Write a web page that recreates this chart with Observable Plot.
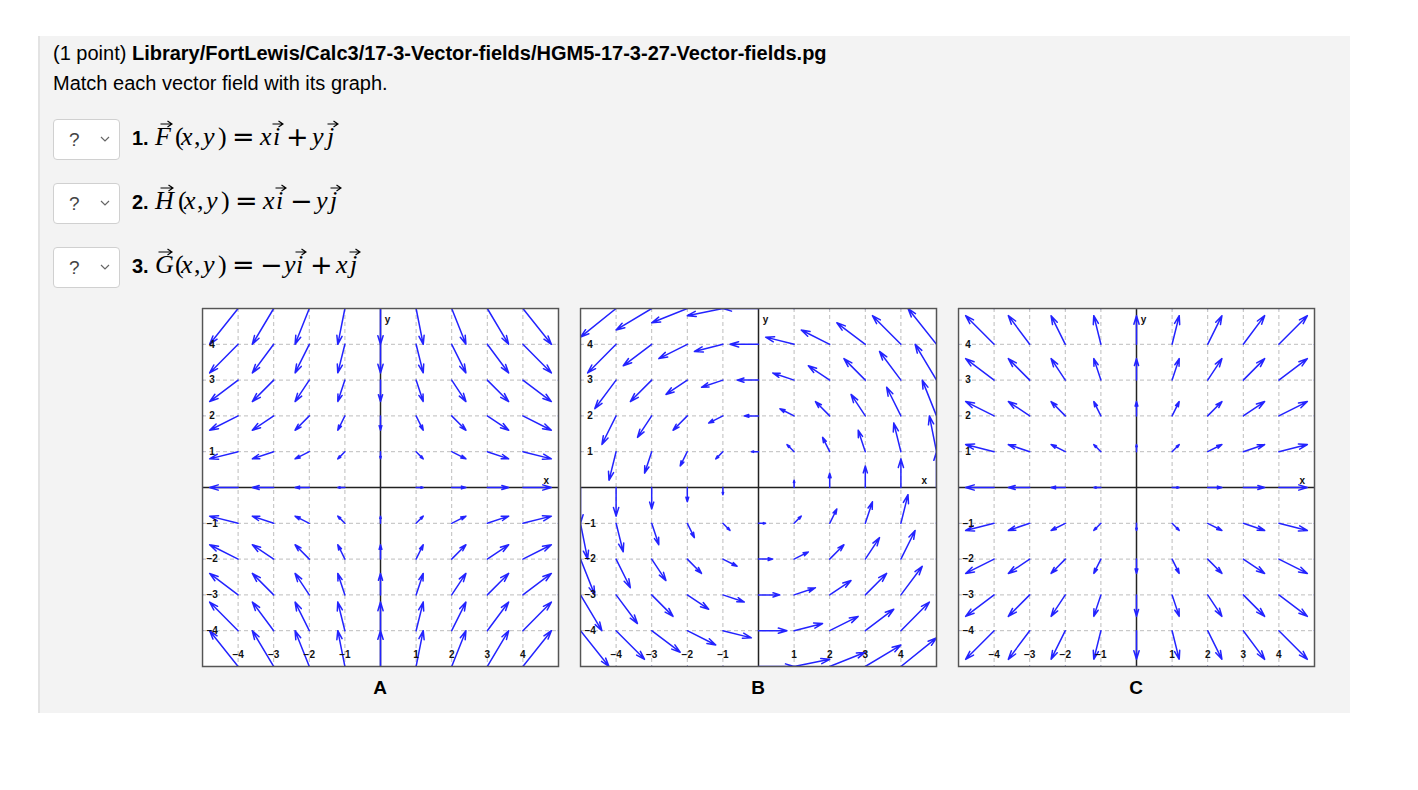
<!DOCTYPE html>
<html><head><meta charset="utf-8">
<script src="https://cdn.jsdelivr.net/npm/d3@7"></script>
<script src="https://cdn.jsdelivr.net/npm/@observablehq/plot@0.6"></script>
<style>
body{margin:0;background:#fff;font-family:"Liberation Sans",Arial,sans-serif;color:#000;}
#panel{position:absolute;left:38px;top:36px;width:1310px;height:677px;background:#f3f3f3;border-left:2px solid #e3e3e3;}
.line{position:absolute;left:53px;font-size:20px;line-height:23px;white-space:nowrap;}
.sel{position:absolute;left:53px;width:65px;height:39px;background:#fff;border:1px solid #d0d0d0;border-radius:4px;}
.sel .q{position:absolute;left:15px;top:9px;font-size:19px;line-height:21px;color:#444}
.sel svg{position:absolute;left:46px;top:16px}
.num{position:absolute;left:132px;font-size:20px;line-height:23px;font-weight:bold}
.g{position:absolute;font-family:"Liberation Serif","Times New Roman",serif;font-size:26px;line-height:26px;white-space:nowrap}
.g.it{font-style:italic}
.g.op{font-family:"DejaVu Sans",sans-serif;font-size:27px;line-height:27px}
.vec{position:absolute}
.graph{position:absolute;top:307px}
.letter{position:absolute;top:677px;width:40px;text-align:center;font-weight:bold;font-size:19px;line-height:22px}
</style>
</head><body>
<div id="panel"></div>
<div class="line" style="top:42px">(1 point) <b>Library/FortLewis/Calc3/17-3-Vector-fields/HGM5-17-3-27-Vector-fields.pg</b></div>
<div class="line" style="top:72px">Match each vector field with its graph.</div>

<div class="sel" style="top:119px"><span class="q">?</span><svg width="10" height="7"><polyline points="1,1 5,5 9,1" fill="none" stroke="#666" stroke-width="1.2"/></svg></div>
<div class="num" style="top:127px">1.</div>
<div class="sel" style="top:183px"><span class="q">?</span><svg width="10" height="7"><polyline points="1,1 5,5 9,1" fill="none" stroke="#666" stroke-width="1.2"/></svg></div>
<div class="num" style="top:191px">2.</div>
<div class="sel" style="top:247px"><span class="q">?</span><svg width="10" height="7"><polyline points="1,1 5,5 9,1" fill="none" stroke="#666" stroke-width="1.2"/></svg></div>
<div class="num" style="top:255px">3.</div>
<div id="math"></div>

<div id="graphs"></div>
<script>
// sample points (columns left to right, rows top to bottom)
const gridX = [-5,-4,-3,-2,-1,0,1,2,3,4,5];
const gridY = [5,4,3,2,1,0,-1,-2,-3,-4,-5];
// tick marks and labels
const tickValues = [-4,-3,-2,-1,1,2,3,4];
const tickLabels = ["−4","−3","−2","−1","1","2","3","4"];
const graphLetters = ["A","B","C"];

// Graph A: arrow offsets (dx per column, dy per row)
const aDxByColumn = [-1,-0.8,-0.6,-0.4,-0.2,0,0.2,0.4,0.6,0.8,1];
const aDyByRow    = [-1,-0.8,-0.6,-0.4,-0.2,0,0.2,0.4,0.6,0.8,1];
// Graph B: dx per row, dy per column
const bDxByRow    = [-1,-0.8,-0.6,-0.4,-0.2,0,0.2,0.4,0.6,0.8,1];
const bDyByColumn = [-1,-0.8,-0.6,-0.4,-0.2,0,0.2,0.4,0.6,0.8,1];
// Graph C: dx per column, dy per row
const cDxByColumn = [-1,-0.8,-0.6,-0.4,-0.2,0,0.2,0.4,0.6,0.8,1];
const cDyByRow    = [1,0.8,0.6,0.4,0.2,0,-0.2,-0.4,-0.6,-0.8,-1];

// ---- formulas (text layout) ----
const formulaRows = [
  {base: 146, glyphs: [["F",155,"it",[160,12]],["(",175],["x",181,"it"],[",",194],["y",203,"it"],[")",218],["=",232,"op"],["x",260,"it"],["i",273,"it",[272,11]],["+",286,"op"],["y",312,"it"],["j",327,"it",[327,11]]]},
  {base: 210, glyphs: [["H",155,"it",[160,13]],["(",178],["x",184,"it"],[",",197],["y",206,"it"],[")",221],["=",235,"op"],["x",263,"it"],["i",276,"it",[275,11]],["−",290,"op"],["y",316,"it"],["j",330,"it",[330,11]]]},
  {base: 274, glyphs: [["G",155,"it",[158,14]],["(",175],["x",181,"it"],[",",194],["y",203,"it"],[")",218],["=",232,"op"],["−",260,"op"],["y",284,"it"],["i",296,"it",[295,11]],["+",310,"op"],["x",336,"it"],["j",350,"it",[349,11]]]}
];
const mathDiv = document.getElementById("math");
formulaRows.forEach(row => {
  row.glyphs.forEach(([ch, left, cls, vec]) => {
    const s = document.createElement("span");
    s.className = "g" + (cls ? " " + cls : "");
    s.textContent = ch;
    s.style.left = left + "px";
    s.style.top = (row.base - (cls === "op" ? 23 : 22)) + "px";
    mathDiv.appendChild(s);
    if (vec) {
      const [vx, w] = vec;
      const ns = "http://www.w3.org/2000/svg";
      const svg = document.createElementNS(ns, "svg");
      svg.setAttribute("class", "vec");
      svg.setAttribute("width", w + 1);
      svg.setAttribute("height", 8);
      svg.style.left = vx + "px";
      svg.style.top = (row.base - 26) + "px";
      const p = document.createElementNS(ns, "path");
      p.setAttribute("d", `M0.5,4 H${w - 1} M${w - 4.5},1 L${w},4 L${w - 4.5},7`);
      p.setAttribute("fill", "none");
      p.setAttribute("stroke", "#000");
      p.setAttribute("stroke-width", "1.2");
      svg.appendChild(p);
      mathDiv.appendChild(svg);
    }
  });
});

function buildArrows(dxFn, dyFn) {
  const rows = [];
  gridY.forEach((y, r) => gridX.forEach((x, c) => {
    rows.push({x, y, x2: x + dxFn(r, c), y2: y + dyFn(r, c)});
  }));
  return rows;
}
const arrowsA = buildArrows((r,c)=>aDxByColumn[c], (r,c)=>aDyByRow[r]);
const arrowsB = buildArrows((r,c)=>bDxByRow[r], (r,c)=>bDyByColumn[c]);
const arrowsC = buildArrows((r,c)=>cDxByColumn[c], (r,c)=>cDyByRow[r]);

const tickRows = tickValues.map((v, i) => ({v, label: tickLabels[i]}));
const font = "'Liberation Sans', Arial, sans-serif";

function drawGraph(arrows, left, letter) {
  const svg = Plot.plot({
    width: 358, height: 360, margin: 1,
    x: {domain: [-5, 5], axis: null},
    y: {domain: [-5, 5], axis: null},
    style: {background: "#fff", fontFamily: font, overflow: "visible"},
    marks: [
      Plot.ruleX(tickValues, {stroke: "#bdbdbd", strokeDasharray: "4,3", strokeWidth: 1}),
      Plot.ruleY(tickValues, {stroke: "#bdbdbd", strokeDasharray: "4,3", strokeWidth: 1}),
      Plot.ruleX([0], {stroke: "#222", strokeWidth: 1.5}),
      Plot.ruleY([0], {stroke: "#222", strokeWidth: 1.5}),
      Plot.arrow(arrows, {x1: "x", y1: "y", x2: "x2", y2: "y2", stroke: "#2323ff", strokeWidth: 1.5, headLength: 9, headAngle: 34, clip: true}),
      Plot.text(tickRows, {x: "v", y: -4.68, text: "label", fontSize: 10, fontWeight: "bold", fill: "#111"}),
      Plot.text(tickRows, {x: -4.73, y: "v", text: "label", fontSize: 10, fontWeight: "bold", fill: "#111"}),
      Plot.text(["y"], {x: 0.2, y: 4.68, text: d => d, fontSize: 10, fontWeight: "bold", fill: "#111"}),
      Plot.text(["x"], {x: 4.66, y: 0.18, text: d => d, fontSize: 10, fontWeight: "bold", fill: "#111"}),
      Plot.frame({stroke: "#555", strokeWidth: 1.5})
    ]
  });
  const holder = document.createElement("div");
  holder.className = "graph";
  holder.style.left = left + "px";
  holder.appendChild(svg);
  document.getElementById("graphs").appendChild(holder);
  const lab = document.createElement("div");
  lab.className = "letter";
  lab.style.left = (left + 179 - 20) + "px";
  lab.textContent = letter;
  document.getElementById("graphs").appendChild(lab);
}
drawGraph(arrowsA, 201, graphLetters[0]);
drawGraph(arrowsB, 579, graphLetters[1]);
drawGraph(arrowsC, 957, graphLetters[2]);
</script>
</body></html>
